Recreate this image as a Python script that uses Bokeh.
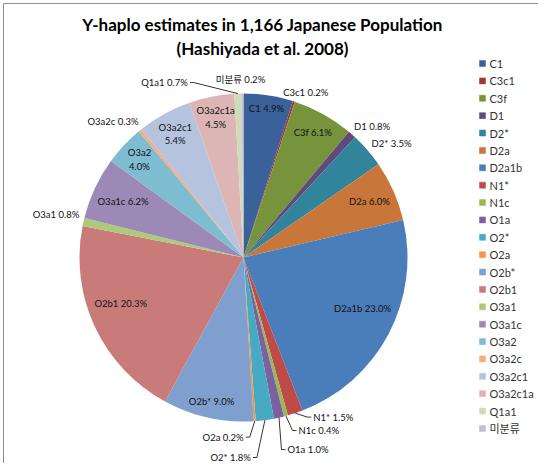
import numpy as np
from bokeh.plotting import figure
from bokeh.models import Range1d
from bokeh.core.properties import value
from bokeh.embed import file_html
from bokeh.resources import INLINE

# ---------------- data ----------------
title_lines = ["Y-haplo estimates in 1,166 Japanese Population", "(Hashiyada et al. 2008)"]
haplogroups = ["C1", "C3c1", "C3f", "D1", "D2*", "D2a", "D2a1b", "N1*", "N1c", "O1a", "O2*",
               "O2a", "O2b*", "O2b1", "O3a1", "O3a1c", "O3a2", "O3a2c", "O3a2c1", "O3a2c1a",
               "Q1a1", "미분류"]
percents = [4.9, 0.2, 6.1, 0.8, 3.5, 6.0, 23.0, 1.5, 0.4, 1.0, 1.8,
            0.2, 9.0, 20.3, 0.8, 6.2, 4.0, 0.3, 5.4, 4.5,
            0.7, 0.2]
colors = ["#3A6199", "#9E3B39", "#77933C", "#5F4A7B", "#31849B", "#C8763A",
          "#4A7EBB", "#BE4B48", "#98B954", "#7D60A0", "#46AAC5", "#F69546",
          "#7F9FCF", "#C97B79", "#AFC97A", "#9D89B8", "#7DBCD1", "#F9AB7B",
          "#B6C3DF", "#DCB5B4", "#CFDCB9", "#C4BCD7"]

# ---------------- layout (style only) ----------------
FONT = "Lato, Noto Sans CJK KR, sans-serif"
CX, CY, R = 243.0, 257.0, 164.0      # pie centre / radius in screen px
W, H = 538, 463


def X(x):
    return x


def Y(y):
    return H - y


# label placement: inside -> (rfac, dx, dy); outside -> (dx, dy, align, leader)
inside = {"C1": (0.92, 0, 0), "C3f": (0.87, 0, 0), "D2a": (0.84, 0, 0),
          "D2a1b": (0.80, 3, -10), "O2b*": (0.90, 0, 0), "O2b1": (0.80, -4, -10),
          "O3a1c": (0.81, 0, 0), "O3a2": (0.87, 0, 0), "O3a2c1": (0.86, 0, 0),
          "O3a2c1a": (0.87, 0, 0)}
two_line = {"O3a2", "O3a2c1", "O3a2c1a"}
outside = {"C3c1": (12, -9, "center", False), "D1": (20, -8, "center", False),
           "D2*": (24, -7, "center", False), "N1*": (18, 4, "left", True),
           "N1c": (12.6, 14.6, "left", True), "O1a": (8.5, 32, "left", True),
           "O2*": (-14, 37.4, "right", True), "O2a": (-11, 16, "right", True),
           "O3a1": (-4, -8, "right", False), "O3a2c": (-27, -9, "center", False),
           "Q1a1": (-50, -11, "right", True), "미분류": (-2, -14, "center", False)}

p = figure(width=W, height=H, output_backend="svg", toolbar_location=None,
           x_range=Range1d(0, W), y_range=Range1d(0, H),
           min_border=0, outline_line_color=None)
p.axis.visible = False
p.grid.visible = False
p.background_fill_color = "white"
p.border_fill_color = "white"

# chart frame
p.quad(left=X(3), right=X(541), top=Y(3), bottom=Y(467), fill_color=None,
       line_color="#8C8C8C", line_width=1)

vals = np.array(percents, dtype=float)
total = vals.sum()
cum = np.concatenate([[0.0], np.cumsum(vals)])
theta0 = 2 * np.pi * cum[:-1] / total      # clockwise from 12 o'clock
theta1 = 2 * np.pi * cum[1:] / total
mid = (theta0 + theta1) / 2

p.wedge(x=X(CX), y=Y(CY), radius=R, start_angle=np.pi / 2 - theta0,
        end_angle=np.pi / 2 - theta1, direction="clock", fill_color=colors,
        line_color=None)

# ---------------- slice labels ----------------
groups = {"left": ([], [], []), "right": ([], [], []), "center": ([], [], [])}
leaders_x, leaders_y = [], []
for i, name in enumerate(haplogroups):
    pct = percents[i]
    s, c = np.sin(mid[i]), np.cos(mid[i])
    if name in inside:
        rf, dx, dy = inside[name]
        lx = CX + rf * R * s + dx
        ly = CY - rf * R * c + dy
        sep = "\n" if name in two_line else " "
        txt = f"{name}{sep}{pct:.1f}%"
        align = "center"
    else:
        dx, dy, align, leader = outside[name]
        ax, ay = CX + R * s, CY - R * c
        lx, ly = ax + dx, ay + dy
        txt = f"{name} {pct:.1f}%"
        if leader:
            side = 1 if align == "left" else -1
            leaders_x.append([X(ax), X(lx - 6 * side), X(lx - 2 * side)])
            leaders_y.append([Y(ay), Y(ly), Y(ly)])
    g = groups[align]
    g[0].append(X(lx))
    g[1].append(Y(ly))
    g[2].append(txt)

p.multi_line(xs=leaders_x, ys=leaders_y, line_color="#000000", line_width=0.8)
for align, (xs, ys, ts) in groups.items():
    if xs:
        p.text(x=xs, y=ys, text=ts, text_align=align, text_baseline="middle",
               text_font=value(FONT), text_font_size="9.5px", text_color="#111111",
               text_line_height=1.25)

# ---------------- legend ----------------
leg_y0, leg_dy = 63.0, 17.38
leg_y = [Y(leg_y0 + k * leg_dy) for k in range(len(haplogroups))]
p.scatter(x=[X(482)] * len(haplogroups), y=leg_y, marker="square", size=6,
          fill_color=colors, line_color=colors, line_alpha=0.5)
p.text(x=[X(489)] * len(haplogroups), y=leg_y, text=haplogroups, text_align="left",
       text_baseline="middle", text_font=value(FONT), text_font_size="11px",
       text_color="#333333")

# ---------------- title ----------------
p.text(x=[X(262), X(262)], y=[Y(24), Y(48)], text=title_lines, text_align="center",
       text_baseline="middle", text_font=value(FONT), text_font_size="17px",
       text_font_style="bold", text_color="#000000")

open("out.html", "w").write(file_html(p, INLINE))
